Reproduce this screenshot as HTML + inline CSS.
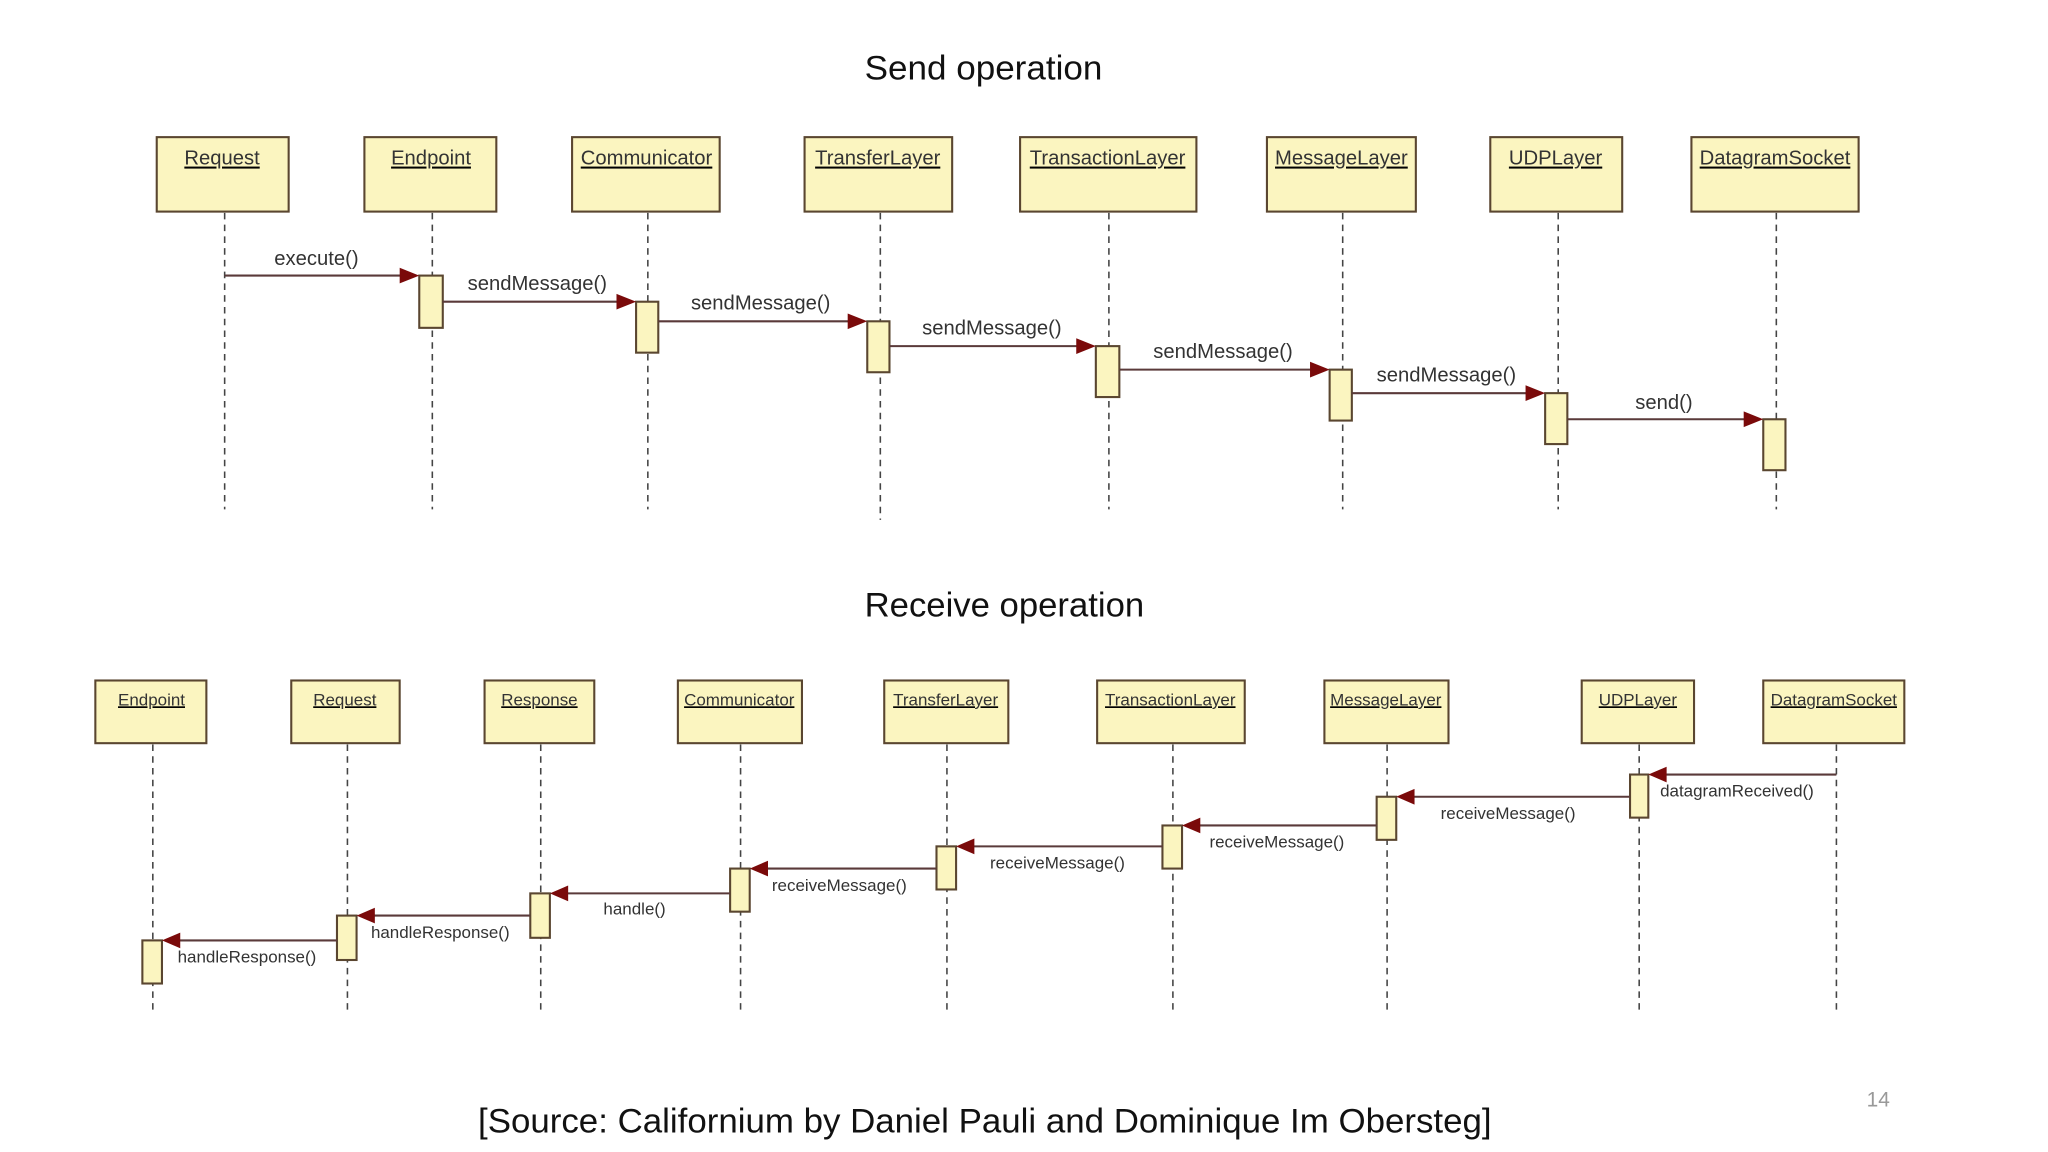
<!DOCTYPE html>
<html><head><meta charset="utf-8"><style>
html,body{margin:0;padding:0;background:#fff;}
svg{display:block}
text{font-family:"Liberation Sans","DejaVu Sans",sans-serif;fill:#333}
.t{font-family:"Liberation Sans",sans-serif;fill:#111}
.b{fill:#fbf5c0;stroke:#5a4630;stroke-width:1.6}
.ll{stroke:#444;stroke-width:1.2;stroke-dasharray:5,4}
.a{stroke:#5a3a3a;stroke-width:1.6}
.h{fill:#7a0a0a}
</style></head><body>
<svg width="2048" height="1152" viewBox="0 0 1568 882" xmlns="http://www.w3.org/2000/svg">
<rect x="0" y="0" width="1568" height="882" fill="#fff"/>
<text class="t" x="753" y="61" font-size="26" text-anchor="middle" textLength="182" lengthAdjust="spacingAndGlyphs">Send operation</text>
<text class="t" x="769" y="472" font-size="26" text-anchor="middle" textLength="214" lengthAdjust="spacingAndGlyphs">Receive operation</text>
<text class="t" x="754" y="867" font-size="26" text-anchor="middle" textLength="776" lengthAdjust="spacingAndGlyphs">[Source: Californium by Daniel Pauli and Dominique Im Obersteg]</text>
<text class="t" x="1438" y="847" font-size="16" text-anchor="middle" style="fill:#999">14</text>

<!-- SEND -->
<g font-size="15.5" text-anchor="middle" text-decoration="underline">
<rect class="b" x="120" y="105" width="101" height="57"/><text x="170" y="126">Request</text>
<rect class="b" x="279" y="105" width="101" height="57"/><text x="330" y="126">Endpoint</text>
<rect class="b" x="438" y="105" width="113" height="57"/><text x="495" y="126">Communicator</text>
<rect class="b" x="616" y="105" width="113" height="57"/><text x="672" y="126">TransferLayer</text>
<rect class="b" x="781" y="105" width="135" height="57"/><text x="848" y="126">TransactionLayer</text>
<rect class="b" x="970" y="105" width="114" height="57"/><text x="1027" y="126">MessageLayer</text>
<rect class="b" x="1141" y="105" width="101" height="57"/><text x="1191" y="126">UDPLayer</text>
<rect class="b" x="1295" y="105" width="128" height="57"/><text x="1359" y="126">DatagramSocket</text>
</g>
<g class="ll">
<line x1="172" y1="163" x2="172" y2="390"/><line x1="331" y1="163" x2="331" y2="390"/>
<line x1="496" y1="163" x2="496" y2="390"/><line x1="674" y1="163" x2="674" y2="398"/>
<line x1="849" y1="163" x2="849" y2="390"/><line x1="1028" y1="163" x2="1028" y2="390"/>
<line x1="1193" y1="163" x2="1193" y2="390"/><line x1="1360" y1="163" x2="1360" y2="390"/>
</g>
<g class="b">
<rect x="321" y="211" width="18" height="40"/><rect x="487" y="231" width="17" height="39"/>
<rect x="664" y="246" width="17" height="39"/><rect x="839" y="265" width="18" height="39"/>
<rect x="1018" y="283" width="17" height="39"/><rect x="1183" y="301" width="17" height="39"/>
<rect x="1350" y="321" width="17" height="39"/>
</g>
<g class="a">
<line x1="172" y1="211" x2="310" y2="211"/><line x1="339" y1="231" x2="476" y2="231"/>
<line x1="504" y1="246" x2="653" y2="246"/><line x1="681" y1="265" x2="828" y2="265"/>
<line x1="857" y1="283" x2="1007" y2="283"/><line x1="1035" y1="301" x2="1172" y2="301"/>
<line x1="1200" y1="321" x2="1339" y2="321"/>
</g>
<g class="h">
<polygon points="306,205 321,211 306,217"/><polygon points="472,225 487,231 472,237"/>
<polygon points="649,240 664,246 649,252"/><polygon points="824,259 839,265 824,271"/>
<polygon points="1003,277 1018,283 1003,289"/><polygon points="1168,295 1183,301 1168,307"/>
<polygon points="1335,315 1350,321 1335,327"/>
</g>
<g font-size="15.5">
<text x="210" y="203">execute()</text><text x="358" y="222">sendMessage()</text>
<text x="529" y="237">sendMessage()</text><text x="706" y="256">sendMessage()</text>
<text x="883" y="274">sendMessage()</text><text x="1054" y="292">sendMessage()</text>
<text x="1252" y="313">send()</text>
</g>

<!-- RECEIVE -->
<g font-size="13" text-anchor="middle" text-decoration="underline">
<rect class="b" x="73" y="521" width="85" height="48"/><text x="116" y="540">Endpoint</text>
<rect class="b" x="223" y="521" width="83" height="48"/><text x="264" y="540">Request</text>
<rect class="b" x="371" y="521" width="84" height="48"/><text x="413" y="540">Response</text>
<rect class="b" x="519" y="521" width="95" height="48"/><text x="566" y="540">Communicator</text>
<rect class="b" x="677" y="521" width="95" height="48"/><text x="724" y="540">TransferLayer</text>
<rect class="b" x="840" y="521" width="113" height="48"/><text x="896" y="540">TransactionLayer</text>
<rect class="b" x="1014" y="521" width="95" height="48"/><text x="1061" y="540">MessageLayer</text>
<rect class="b" x="1211" y="521" width="86" height="48"/><text x="1254" y="540">UDPLayer</text>
<rect class="b" x="1350" y="521" width="108" height="48"/><text x="1404" y="540">DatagramSocket</text>
</g>
<g class="ll">
<line x1="117" y1="570" x2="117" y2="773"/><line x1="266" y1="570" x2="266" y2="773"/>
<line x1="414" y1="570" x2="414" y2="773"/><line x1="567" y1="570" x2="567" y2="773"/>
<line x1="725" y1="570" x2="725" y2="773"/><line x1="898" y1="570" x2="898" y2="773"/>
<line x1="1062" y1="570" x2="1062" y2="773"/><line x1="1255" y1="570" x2="1255" y2="773"/>
<line x1="1406" y1="570" x2="1406" y2="773"/>
</g>
<g class="b">
<rect x="1248" y="593" width="14" height="33"/><rect x="1054" y="610" width="15" height="33"/>
<rect x="890" y="632" width="15" height="33"/><rect x="717" y="648" width="15" height="33"/>
<rect x="559" y="665" width="15" height="33"/><rect x="406" y="684" width="15" height="34"/>
<rect x="258" y="701" width="15" height="34"/><rect x="109" y="720" width="15" height="33"/>
</g>
<g class="a">
<line x1="1406" y1="593" x2="1272" y2="593"/><line x1="1248" y1="610" x2="1079" y2="610"/>
<line x1="1054" y1="632" x2="915" y2="632"/><line x1="890" y1="648" x2="742" y2="648"/>
<line x1="717" y1="665" x2="584" y2="665"/><line x1="559" y1="684" x2="431" y2="684"/>
<line x1="406" y1="701" x2="283" y2="701"/><line x1="258" y1="720" x2="134" y2="720"/>
</g>
<g class="h">
<polygon points="1276,587 1262,593 1276,599"/><polygon points="1083,604 1069,610 1083,616"/>
<polygon points="919,626 905,632 919,638"/><polygon points="746,642 732,648 746,654"/>
<polygon points="588,659 574,665 588,671"/><polygon points="435,678 421,684 435,690"/>
<polygon points="287,695 273,701 287,707"/><polygon points="138,714 124,720 138,726"/>
</g>
<g font-size="13">
<text x="1271" y="610">datagramReceived()</text><text x="1103" y="627">receiveMessage()</text>
<text x="926" y="649">receiveMessage()</text><text x="758" y="665">receiveMessage()</text>
<text x="591" y="682">receiveMessage()</text><text x="462" y="700">handle()</text>
<text x="284" y="718">handleResponse()</text><text x="136" y="737">handleResponse()</text>
</g>
</svg>
</body></html>
